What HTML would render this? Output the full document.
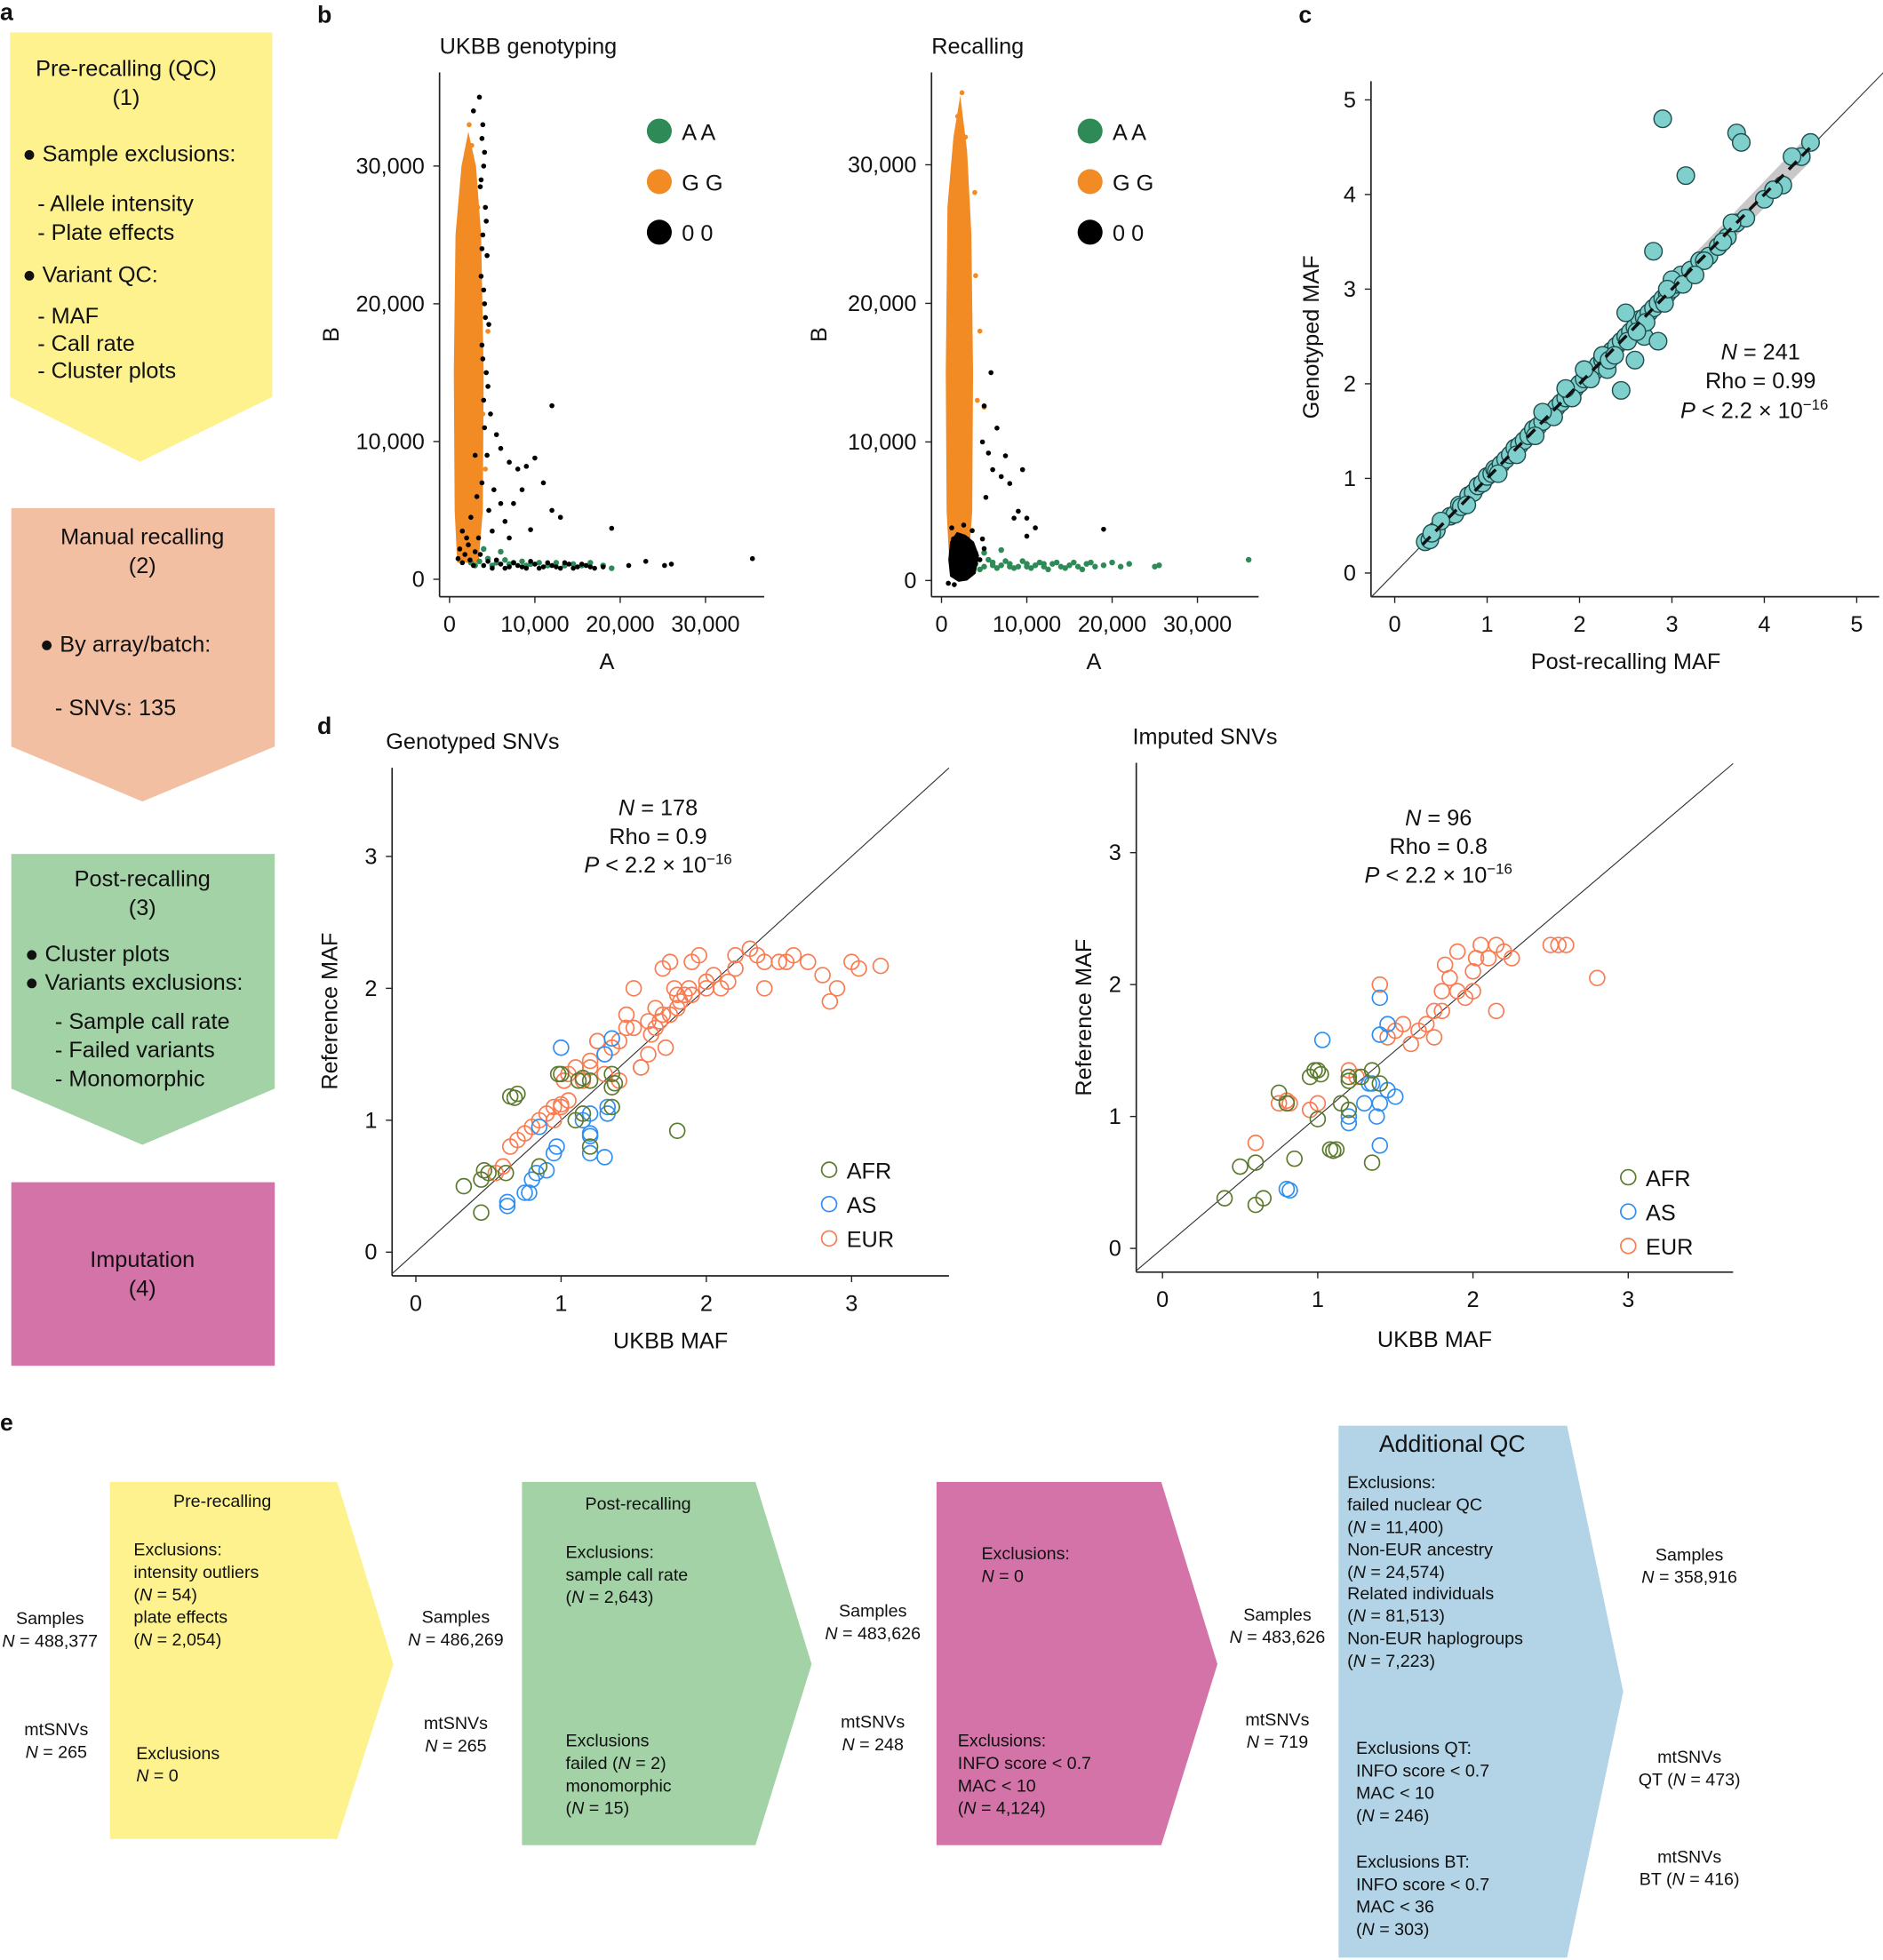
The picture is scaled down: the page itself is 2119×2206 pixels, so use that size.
<!DOCTYPE html>
<html><head><meta charset="utf-8">
<style>
html,body{margin:0;padding:0;background:#fff;}
svg{display:block;font-family:"Liberation Sans",sans-serif;}
</style></head>
<body>
<svg id="fig" width="2119" height="2206" viewBox="0 0 1508 1570" xmlns="http://www.w3.org/2000/svg">
<g id="static" fill="#111" font-size="18">
  <text x="0" y="16" font-weight="bold" font-size="19">a</text>
  <text x="254" y="18" font-weight="bold" font-size="19">b</text>
  <text x="1040" y="18" font-weight="bold" font-size="19">c</text>
  <text x="254" y="588" font-weight="bold" font-size="19">d</text>
  <text x="0" y="1146" font-weight="bold" font-size="19">e</text>

  <g>
    <polygon points="8,26 218,26 218,318 112,370 8,318" fill="#fdf28d"/>
    <text x="101" y="61" text-anchor="middle">Pre-recalling (QC)</text>
    <text x="101" y="84" text-anchor="middle">(1)</text>
    <text x="18" y="129">● Sample exclusions:</text>
    <text x="30" y="169">- Allele intensity</text>
    <text x="30" y="192">- Plate effects</text>
    <text x="18" y="226">● Variant QC:</text>
    <text x="30" y="259">- MAF</text>
    <text x="30" y="281">- Call rate</text>
    <text x="30" y="303">- Cluster plots</text>

    <polygon points="9,407 220,407 220,598 114,642 9,598" fill="#f3bfa3"/>
    <text x="114" y="436" text-anchor="middle">Manual recalling</text>
    <text x="114" y="459" text-anchor="middle">(2)</text>
    <text x="32" y="522">● By array/batch:</text>
    <text x="44" y="573">- SNVs: 135</text>

    <polygon points="9,684 220,684 220,872 114,917 9,872" fill="#a2d2a5"/>
    <text x="114" y="710" text-anchor="middle">Post-recalling</text>
    <text x="114" y="733" text-anchor="middle">(3)</text>
    <text x="20" y="770">● Cluster plots</text>
    <text x="20" y="793">● Variants exclusions:</text>
    <text x="44" y="824">- Sample call rate</text>
    <text x="44" y="847">- Failed variants</text>
    <text x="44" y="870">- Monomorphic</text>

    <rect x="9" y="947" width="211" height="147" fill="#d373a8"/>
    <text x="114" y="1015" text-anchor="middle">Imputation</text>
    <text x="114" y="1038" text-anchor="middle">(4)</text>
  </g>

  <g font-size="14">
    <polygon points="88,1187 270,1187 315,1333 270,1473 88,1473" fill="#fdf28d"/>
    <polygon points="418,1187 605,1187 650,1333 605,1478 418,1478" fill="#a2d2a5"/>
    <polygon points="750,1187 930,1187 975,1333 930,1478 750,1478" fill="#d373a8"/>
    <polygon points="1072,1142 1255,1142 1300,1355 1255,1568 1072,1568" fill="#b2d4e6"/>

    <text x="178" y="1207" text-anchor="middle">Pre-recalling</text>
    <text x="107" y="1246">Exclusions:</text>
    <text x="107" y="1264">intensity outliers</text>
    <text x="107" y="1282">(<tspan font-style="italic">N</tspan> = 54)</text>
    <text x="107" y="1300">plate effects</text>
    <text x="107" y="1318">(<tspan font-style="italic">N</tspan> = 2,054)</text>
    <text x="109" y="1409">Exclusions</text>
    <text x="109" y="1427"><tspan font-style="italic">N</tspan> = 0</text>

    <text x="511" y="1209" text-anchor="middle">Post-recalling</text>
    <text x="453" y="1248">Exclusions:</text>
    <text x="453" y="1266">sample call rate</text>
    <text x="453" y="1284">(<tspan font-style="italic">N</tspan> = 2,643)</text>
    <text x="453" y="1399">Exclusions</text>
    <text x="453" y="1417">failed (<tspan font-style="italic">N</tspan> = 2)</text>
    <text x="453" y="1435">monomorphic</text>
    <text x="453" y="1453">(<tspan font-style="italic">N</tspan> = 15)</text>

    <text x="786" y="1249">Exclusions:</text>
    <text x="786" y="1267"><tspan font-style="italic">N</tspan> = 0</text>
    <text x="767" y="1399">Exclusions:</text>
    <text x="767" y="1417">INFO score &lt; 0.7</text>
    <text x="767" y="1435">MAC &lt; 10</text>
    <text x="767" y="1453">(<tspan font-style="italic">N</tspan> = 4,124)</text>

    <text x="1163" y="1163" text-anchor="middle" font-size="19">Additional QC</text>
    <text x="1079" y="1192">Exclusions:</text>
    <text x="1079" y="1210">failed nuclear QC</text>
    <text x="1079" y="1228">(<tspan font-style="italic">N</tspan> = 11,400)</text>
    <text x="1079" y="1246">Non-EUR ancestry</text>
    <text x="1079" y="1264">(<tspan font-style="italic">N</tspan> = 24,574)</text>
    <text x="1079" y="1281">Related individuals</text>
    <text x="1079" y="1299">(<tspan font-style="italic">N</tspan> = 81,513)</text>
    <text x="1079" y="1317">Non-EUR haplogroups</text>
    <text x="1079" y="1335">(<tspan font-style="italic">N</tspan> = 7,223)</text>
    <text x="1086" y="1405">Exclusions QT:</text>
    <text x="1086" y="1423">INFO score &lt; 0.7</text>
    <text x="1086" y="1441">MAC &lt; 10</text>
    <text x="1086" y="1459">(<tspan font-style="italic">N</tspan> = 246)</text>
    <text x="1086" y="1496">Exclusions BT:</text>
    <text x="1086" y="1514">INFO score &lt; 0.7</text>
    <text x="1086" y="1532">MAC &lt; 36</text>
    <text x="1086" y="1550">(<tspan font-style="italic">N</tspan> = 303)</text>

    <g text-anchor="middle">
      <text x="40" y="1301">Samples</text>
      <text x="40" y="1319"><tspan font-style="italic">N</tspan> = 488,377</text>
      <text x="45" y="1390">mtSNVs</text>
      <text x="45" y="1408"><tspan font-style="italic">N</tspan> = 265</text>
      <text x="365" y="1300">Samples</text>
      <text x="365" y="1318"><tspan font-style="italic">N</tspan> = 486,269</text>
      <text x="365" y="1385">mtSNVs</text>
      <text x="365" y="1403"><tspan font-style="italic">N</tspan> = 265</text>
      <text x="699" y="1295">Samples</text>
      <text x="699" y="1313"><tspan font-style="italic">N</tspan> = 483,626</text>
      <text x="699" y="1384">mtSNVs</text>
      <text x="699" y="1402"><tspan font-style="italic">N</tspan> = 248</text>
      <text x="1023" y="1298">Samples</text>
      <text x="1023" y="1316"><tspan font-style="italic">N</tspan> = 483,626</text>
      <text x="1023" y="1382">mtSNVs</text>
      <text x="1023" y="1400"><tspan font-style="italic">N</tspan> = 719</text>
      <text x="1353" y="1250">Samples</text>
      <text x="1353" y="1268"><tspan font-style="italic">N</tspan> = 358,916</text>
      <text x="1353" y="1412">mtSNVs</text>
      <text x="1353" y="1430">QT (<tspan font-style="italic">N</tspan> = 473)</text>
      <text x="1353" y="1492">mtSNVs</text>
      <text x="1353" y="1510">BT (<tspan font-style="italic">N</tspan> = 416)</text>
    </g>
  </g>

  <text x="352" y="43">UKBB genotyping</text>
  <text x="746" y="43">Recalling</text>
  <text x="486" y="536" text-anchor="middle">A</text>
  <text x="876" y="536" text-anchor="middle">A</text>
  <text transform="translate(271,268) rotate(-90)" text-anchor="middle">B</text>
  <text transform="translate(662,268) rotate(-90)" text-anchor="middle">B</text>
  <text x="1302" y="536" text-anchor="middle">Post-recalling  MAF</text>
  <text transform="translate(1056,270) rotate(-90)" text-anchor="middle">Genotyped MAF</text>
  <g text-anchor="middle">
    <text x="1410" y="288"><tspan font-style="italic">N</tspan> = 241</text>
    <text x="1410" y="311">Rho = 0.99</text>
    <text x="1405" y="335"><tspan font-style="italic">P</tspan> &lt; 2.2 × 10<tspan dy="-7" font-size="12">−16</tspan></text>
  </g>
  <text x="309" y="600">Genotyped SNVs</text>
  <text x="907" y="596">Imputed SNVs</text>
  <text x="537" y="1080" text-anchor="middle">UKBB MAF</text>
  <text x="1149" y="1079" text-anchor="middle">UKBB MAF</text>
  <text transform="translate(270,810) rotate(-90)" text-anchor="middle">Reference MAF</text>
  <text transform="translate(874,815) rotate(-90)" text-anchor="middle">Reference MAF</text>
  <g text-anchor="middle">
    <text x="527" y="653"><tspan font-style="italic">N</tspan> = 178</text>
    <text x="527" y="676">Rho = 0.9</text>
    <text x="527" y="699"><tspan font-style="italic">P</tspan> &lt; 2.2 × 10<tspan dy="-7" font-size="12">−16</tspan></text>
  </g>
  <g text-anchor="middle">
    <text x="1152" y="661"><tspan font-style="italic">N</tspan> = 96</text>
    <text x="1152" y="684">Rho = 0.8</text>
    <text x="1152" y="707"><tspan font-style="italic">P</tspan> &lt; 2.2 × 10<tspan dy="-7" font-size="12">−16</tspan></text>
  </g>
</g>
<g id="charts"></g>
</svg>
<script>
// ---------- DATA ----------
const bTicks = [0, 10, 20, 30];
const bTickLabels = ["0", "10,000", "20,000", "30,000"];
const bLegend = ["A A", "G G", "0 0"];
const b1OrangeOutline = [[0.9,1.2],[0.6,5],[0.5,15],[0.7,25],[1.4,30],[2.2,32.5],[3.1,30],[3.7,25],[4.0,15],[3.9,5],[3.4,1.2]];
const b1Orange = [[2.3,33],[2.6,31.5],[1.8,29],[3.3,27],[0.9,20],[3.9,12],[4.2,8],[1.2,3],[2.8,2.5],[4.5,18]];
const b1BlackBlob = [];
const b1Black = [[3.5,35],[2.8,34],[3.8,32],[4.0,30],[3.6,28.5],[4.2,27],[3.9,25],[4.4,23.5],[3.7,22],[4.1,20],[4.6,18.5],[3.8,17],[4.3,15],[4.0,13],[4.8,12],[5.5,10.5],[6,9.5],[7,8.5],[8,8],[9,8.2],[10,8.8],[11,7],[5.2,6.5],[7.5,5.5],[6.5,4.2],[9.5,3.6],[12,12.6],[13,4.5],[19,3.7],[35.5,1.5],[26,1.1],[25.2,1.0],[23,1.3],[21,1.0],[18,0.9],[1.2,2.2],[1.8,1.8],[2.4,1.4],[3.0,2.0],[3.4,3.0],[2.0,3.0],[4,1.0],[5,0.8],[6,1.1],[7,0.9],[8,1.0],[9,0.8],[10,1.1],[11,0.9],[12,1.0],[13,0.8],[14,1.1],[15,0.9],[16,1.0],[17,0.8],[3.0,9],[3.2,6],[8.5,6.5],[12,5],[3.9,33],[4.1,31],[3.7,29],[4.3,26],[3.8,24],[4.0,21],[4.2,19],[3.9,16],[4.5,14],[4.1,11],[4.4,9],[3.8,7],[4.6,5],[1.0,1.5],[1.5,1.2],[2.2,2.5],[2.8,1.0],[3.6,1.8],[4.5,1.3],[5.5,1.4],[6.5,0.8],[7.5,1.2],[8.5,0.9],[9.5,1.3],[10.5,0.8],[11.5,1.2],[12.5,0.9],[13.5,1.2],[14.5,0.8],[15.5,1.1],[16.5,0.9],[5,3.5],[6,5.5],[7,3.0],[2.5,4.5],[1.5,3.5]];
const b1Green = [[2.5,1.2],[3.5,1.3],[4.5,1.5],[5.5,1.2],[6.5,1.4],[7.5,1.2],[8.5,1.3],[9.5,1.1],[10.5,1.2],[11.5,1.0],[12.5,1.2],[13.5,1.0],[14.5,1.1],[15.5,1.0],[16.5,1.2],[18,1.0],[19,0.8],[4,2.2],[6,2.0],[3,1.0],[5,1.0],[7,1.1],[9,1.0]];
const b2OrangeOutline = [[0.9,1.5],[0.6,5],[0.5,15],[0.7,27],[1.4,32],[2.2,35],[3.0,31],[3.5,25],[3.7,15],[3.6,5],[3.2,1.5]];
const b2Orange = [[2.4,35.2],[1.9,33.5],[2.8,32],[4.0,22],[4.5,18],[4.2,13],[3.9,28],[5,12.5]];
const b2BlackBlob = [[1.0,0.3],[0.8,1.5],[1.0,2.8],[1.8,3.5],[2.8,3.3],[3.8,2.8],[4.4,1.8],[4.0,0.5],[3.0,0.0],[2.0,-0.1]];
const b2Black = [[1.2,1.0],[1.6,2.0],[2.0,0.5],[2.4,2.5],[2.8,1.2],[3.2,2.0],[3.6,1.0],[1.4,3.0],[2.2,3.2],[3.0,3.0],[1.8,0.2],[2.6,0.3],[4.0,2.0],[4.5,1.5],[5,12.6],[6.5,11],[5.5,9.2],[6,8],[7,7.5],[8,7],[7.5,9],[9,5],[8.5,4.5],[10,4.5],[11,3.8],[10,3.2],[4.8,10],[5.2,6],[9.5,8],[19,3.7],[5.8,15],[4.8,3.0],[5.0,2.3],[1.2,3.8],[2.6,4.0],[3.6,3.6],[0.8,-0.2],[1.5,-0.3]];
const b2Green = [[4,1.2],[5,1.0],[6,1.3],[7,1.1],[8,1.2],[9,1.0],[10,1.2],[11,1.1],[12,1.0],[13,1.2],[14,1.0],[15,1.1],[16,1.0],[17,1.2],[18,1.0],[19,1.1],[20,1.3],[21,1.0],[22,1.2],[25,1.0],[25.5,1.1],[36,1.5],[5,2],[7,2.2],[4.5,0.8],[5.5,1.5],[6.5,0.9],[7.5,1.4],[8.5,0.9],[9.5,1.4],[10.5,0.9],[11.5,1.3],[12.5,0.8],[13.5,1.3],[14.5,0.9],[15.5,1.3],[16.5,0.8],[17.5,1.3],[6,1.1],[8,1.0],[10,1.0],[12,1.2]];

// panel c
const cTicks = [0, 1, 2, 3, 4, 5];
const cPost = [0.33,0.38,0.45,0.6,0.65,0.7,0.72,0.8,0.85,0.9,0.95,1.0,1.05,1.08,1.1,1.15,1.2,1.25,1.3,1.35,1.4,1.45,1.5,1.55,1.6,1.65,1.7,1.75,1.8,1.85,1.9,1.95,2.0,2.05,2.1,2.15,2.2,2.25,2.3,2.35,2.4,2.45,2.5,2.55,2.6,2.65,2.7,2.75,2.8,2.85,2.9,2.95,3.0,3.05,3.1,3.2,3.3,3.4,3.5,3.6,3.7,3.8,4.0,4.2,4.4,4.5,2.9,3.15,3.7,3.75,4.3,2.45,2.6,2.3,2.25,2.8,2.7,2.85,2.5,3.0,0.5,1.12,1.32,1.52,1.72,1.92,2.12,2.32,2.52,2.72,2.92,3.12,3.35,3.55,1.6,1.85,2.05,2.38,2.62,2.95,3.25,3.65,0.4,0.78,4.1];
const cGeno = [0.33,0.35,0.45,0.6,0.62,0.72,0.7,0.82,0.85,0.92,0.95,1.02,1.05,1.1,1.08,1.15,1.2,1.25,1.32,1.35,1.4,1.45,1.52,1.55,1.6,1.68,1.7,1.75,1.8,1.85,1.9,1.95,2.0,2.05,2.1,2.12,2.2,2.25,2.3,2.35,2.4,2.45,2.5,2.55,2.6,2.68,2.7,2.75,2.8,2.85,2.9,2.95,3.0,3.05,3.15,3.2,3.3,3.35,3.45,3.55,3.7,3.75,3.95,4.1,4.4,4.55,4.8,4.2,4.65,4.55,4.4,1.93,2.25,2.15,2.3,3.4,2.5,2.45,2.75,3.1,0.55,1.05,1.25,1.45,1.65,1.85,2.05,2.25,2.45,2.65,2.85,3.05,3.3,3.5,1.7,1.95,2.15,2.3,2.55,3.0,3.15,3.7,0.42,0.72,4.05];
const cFit = [0.3, 4.5];

// panel d
const dTicks = [0, 1, 2, 3];
const dGroups = ["AFR", "AS", "EUR"];
const d1AfrX = [0.33,0.45,0.45,0.47,0.5,0.62,0.65,0.7,0.68,0.98,1.0,1.12,1.15,1.2,1.35,1.37,1.35,1.1,1.15,0.85,1.8,1.2,1.35];
const d1AfrY = [0.5,0.3,0.55,0.62,0.6,0.6,1.18,1.2,1.17,1.35,1.35,1.3,1.32,1.3,1.35,1.28,1.25,1.0,1.05,0.65,0.92,0.8,1.1];
const d1AsX = [0.63,0.63,0.75,0.78,0.8,0.83,0.85,0.9,0.95,0.97,1.0,1.2,1.3,1.32,1.32,1.3,1.35,1.2,1.15,1.2,1.2];
const d1AsY = [0.35,0.38,0.45,0.45,0.55,0.6,0.95,0.62,0.75,0.8,1.55,0.88,0.72,1.05,1.1,1.5,1.62,1.05,1.0,0.75,0.9];
const d1EurX = [0.55,0.6,0.65,0.7,0.75,0.8,0.85,0.9,0.95,1.0,1.02,1.05,1.1,1.15,1.2,1.25,1.3,1.35,1.4,1.45,1.5,1.55,1.6,1.62,1.65,1.68,1.7,1.72,1.75,1.78,1.8,1.82,1.85,1.88,1.9,1.95,2.0,2.05,2.1,2.15,2.2,2.3,2.35,2.4,2.5,2.55,2.6,2.7,2.8,2.85,2.9,3.0,3.05,3.2,1.4,1.55,1.5,1.7,1.75,1.8,1.3,1.0,0.95,1.05,1.25,1.6,1.65,1.9,2.0,2.2,2.4,1.45,1.2];
const d1EurY = [0.6,0.65,0.8,0.85,0.9,0.95,1.0,1.05,1.1,1.12,1.3,1.35,1.4,1.3,1.45,1.6,1.5,1.55,1.6,1.8,1.7,1.4,1.5,1.65,1.7,1.75,1.8,1.55,1.8,2.0,1.85,1.9,1.95,2.0,2.2,2.25,2.0,2.1,2.0,2.05,2.25,2.3,2.25,2.2,2.2,2.2,2.25,2.2,2.1,1.9,2.0,2.2,2.15,2.17,1.3,1.4,2.0,2.15,2.2,1.95,1.35,1.1,1.0,1.15,1.6,1.75,1.85,1.95,2.05,2.15,2.0,1.7,1.4];
const d2AfrX = [0.4,0.5,0.6,0.6,0.65,0.75,0.8,0.85,0.98,1.0,1.02,0.95,1.08,1.12,1.1,1.2,1.2,1.28,1.35,1.4,1.35,1.0,1.2,1.15];
const d2AfrY = [0.38,0.62,0.65,0.33,0.38,1.18,1.1,0.68,1.35,1.35,1.32,1.3,0.75,0.75,0.74,1.3,1.27,1.3,1.35,1.25,0.65,0.98,1.05,1.1];
const d2AsX = [0.8,0.82,1.03,1.2,1.2,1.35,1.4,1.4,1.45,1.4,1.38,1.45,1.5,1.4,1.33,1.3];
const d2AsY = [0.45,0.44,1.58,0.95,1.0,1.25,1.9,1.62,1.7,1.1,1.0,1.2,1.15,0.78,1.25,1.1];
const d2EurX = [0.6,0.75,0.8,0.82,0.95,1.0,1.2,1.25,1.4,1.45,1.5,1.55,1.6,1.65,1.7,1.75,1.8,1.82,1.85,1.9,1.95,2.0,2.02,2.05,2.1,2.15,2.2,2.25,2.5,2.55,2.6,2.8,1.9,2.0,2.15,1.8,1.75];
const d2EurY = [0.8,1.1,1.12,1.1,1.05,1.1,1.35,1.3,2.0,1.6,1.65,1.7,1.55,1.65,1.7,1.8,1.95,2.15,2.05,1.95,1.9,2.1,2.2,2.3,2.2,2.3,2.25,2.2,2.3,2.3,2.3,2.05,2.25,1.95,1.8,1.8,1.6];

// ---------- DRAWING ----------
const NS = "http://www.w3.org/2000/svg";
const root = document.getElementById('charts');
function mk(tag, attrs, parent) {
  const e = document.createElementNS(NS, tag);
  for (const k in attrs) e.setAttribute(k, attrs[k]);
  (parent || root).appendChild(e);
  return e;
}
function lin(d0, d1, r0, r1) { return v => r0 + (v - d0) * (r1 - r0) / (d1 - d0); }

const COL = {AA: "#2e8b57", GG: "#f28b24", OO: "#000", AFR: "#5b7a2d", AS: "#2f8ff0", EUR: "#f97b51"};

function axesFrame(g, x0, x1, y0, y1) {
  mk('line', {x1: x0, y1: y0, x2: x0, y2: y1, stroke: '#222', 'stroke-width': 1.2}, g);
  mk('line', {x1: x0, y1: y1, x2: x1, y2: y1, stroke: '#222', 'stroke-width': 1.2}, g);
}
function ticks(g, sx, sy, x0, y1, xt, yt, xl, yl, fs) {
  xt.forEach((t, i) => {
    const x = sx(t);
    mk('line', {x1: x, y1: y1, x2: x, y2: y1 + 5, stroke: '#222'}, g);
    const tx = mk('text', {x: x, y: y1 + 28, 'text-anchor': 'middle', 'font-size': fs, fill: '#111'}, g);
    tx.textContent = xl[i];
  });
  yt.forEach((t, i) => {
    const y = sy(t);
    mk('line', {x1: x0 - 5, y1: y, x2: x0, y2: y, stroke: '#222'}, g);
    const tx = mk('text', {x: x0 - 12, y: y + 6, 'text-anchor': 'end', 'font-size': fs, fill: '#111'}, g);
    tx.textContent = yl[i];
  });
}

function panelB(name, ax, lg, outline, orange, blob, black, green) {
  const g = mk('g', {});
  
  
  const sx = lin(0, 30, ax.x0v, ax.x30v), sy = lin(0, 30, ax.y0v, ax.y30v);
  axesFrame(g, ax.left, ax.right, ax.top, ax.bottom);
  ticks(g, sx, sy, ax.left, ax.bottom, bTicks, bTicks, bTickLabels, bTickLabels, 18);
  const poly = mk('polygon', {points: outline.map(p => sx(p[0]) + ',' + sy(p[1])).join(' '), fill: COL.GG}, g);
  
  
  orange.forEach(p => {
    const c = mk('circle', {cx: sx(p[0]), cy: sy(p[1]), r: 2, fill: COL.GG}, g);
    
    
  });
  green.forEach(p => {
    const c = mk('circle', {cx: sx(p[0]), cy: sy(p[1]), r: 2.3, fill: COL.AA}, g);
    
    
  });
  if (blob.length) {
    const bp = mk('polygon', {points: blob.map(p => sx(p[0]) + ',' + sy(p[1])).join(' '), fill: COL.OO}, g);
    
    
  }
  black.forEach(p => {
    const c = mk('circle', {cx: sx(p[0]), cy: sy(p[1]), r: 2, fill: COL.OO}, g);
    
    
  });
  const cols = [COL.AA, COL.GG, COL.OO];
  bLegend.forEach((t, i) => {
    const y = 105 + i * 40.5;
    const c = mk('circle', {cx: lg, cy: y, r: 10, fill: cols[i]}, g);
    
    
    const tx = mk('text', {x: lg + 18, y: y + 7, 'font-size': 18, fill: '#111'}, g);
    
    
    tx.textContent = t;
  });
}
panelB('scatter-ukbb-genotyping', {x0v: 360, x30v: 565, y0v: 464, y30v: 133, left: 352, right: 612, top: 58, bottom: 478}, 528, b1OrangeOutline, b1Orange, b1BlackBlob, b1Black, b1Green);
panelB('scatter-recalling', {x0v: 754, x30v: 959, y0v: 465, y30v: 132, left: 746, right: 1008, top: 58, bottom: 478}, 873, b2OrangeOutline, b2Orange, b2BlackBlob, b2Black, b2Green);

(function () {
  const g = mk('g', {});
  
  
  const sx = lin(0, 5, 1117, 1487), sy = lin(0, 5, 459, 80);
  axesFrame(g, 1098, 1505, 65, 478);
  ticks(g, sx, sy, 1098, 478, cTicks, cTicks, cTicks.map(String), cTicks.map(String), 18);
  mk('line', {x1: sx(-0.25), y1: sy(-0.25), x2: sx(5.4), y2: sy(5.4), stroke: '#333', 'stroke-width': 0.8}, g);
  const band = mk('polygon', {points: [[cFit[0], cFit[0] - 0.08], [cFit[1], cFit[1] - 0.15], [cFit[1], cFit[1] + 0.15], [cFit[0], cFit[0] + 0.08]].map(p => sx(p[0]) + ',' + sy(p[1])).join(' '), fill: '#c8c8c8'}, g);
  
  
  cPost.forEach((v, i) => {
    const c = mk('circle', {cx: sx(v), cy: sy(cGeno[i]), r: 7, fill: '#7fcfcd', stroke: '#1d4d4c', 'stroke-width': 1}, g);
    
    
  });
  const fl = mk('line', {x1: sx(cFit[0]), y1: sy(cFit[0]), x2: sx(cFit[1]), y2: sy(cFit[1]), stroke: '#111', 'stroke-width': 2.5, 'stroke-dasharray': '9,6'}, g);
  
  
})();

function panelD(name, ax, lgx, lgy, series) {
  const g = mk('g', {});
  
  
  const sx = lin(0, 3, ax.x0v, ax.x3v), sy = lin(0, 3, ax.y0v, ax.y3v);
  axesFrame(g, ax.left, ax.right, ax.top, ax.bottom);
  ticks(g, sx, sy, ax.left, ax.bottom, dTicks, dTicks, dTicks.map(String), dTicks.map(String), 18);
  const v0 = (ax.left - ax.x0v) / (ax.x3v - ax.x0v) * 3;
  const v1 = (ax.right - ax.x0v) / (ax.x3v - ax.x0v) * 3;
  mk('line', {x1: sx(v0), y1: sy(v0), x2: sx(v1), y2: sy(v1), stroke: '#333', 'stroke-width': 0.8}, g);
  series.forEach(s => {
    s.x.forEach((v, i) => {
      const c = mk('circle', {cx: sx(v), cy: sy(s.y[i]), r: 6, fill: 'none', stroke: COL[s.k], 'stroke-width': 1.2}, g);
      
      
    });
  });
  dGroups.forEach((k, i) => {
    const y = lgy + i * 27.5;
    const c = mk('circle', {cx: lgx, cy: y, r: 6, fill: 'none', stroke: COL[k], 'stroke-width': 1.2}, g);
    
    
    const tx = mk('text', {x: lgx + 14, y: y + 7, 'font-size': 18, fill: '#111'}, g);
    
    
    tx.textContent = k;
  });
}
panelD('scatter-genotyped-snvs', {x0v: 333, x3v: 682, y0v: 1003, y3v: 686, left: 314, right: 760, top: 615, bottom: 1022}, 664, 937,
  [{k: 'EUR', x: d1EurX, y: d1EurY}, {k: 'AS', x: d1AsX, y: d1AsY}, {k: 'AFR', x: d1AfrX, y: d1AfrY}]);
panelD('scatter-imputed-snvs', {x0v: 931, x3v: 1304, y0v: 1000, y3v: 683, left: 910, right: 1388, top: 611, bottom: 1019}, 1304, 943,
  [{k: 'EUR', x: d2EurX, y: d2EurY}, {k: 'AS', x: d2AsX, y: d2AsY}, {k: 'AFR', x: d2AfrX, y: d2AfrY}]);
</script>
</body></html>
